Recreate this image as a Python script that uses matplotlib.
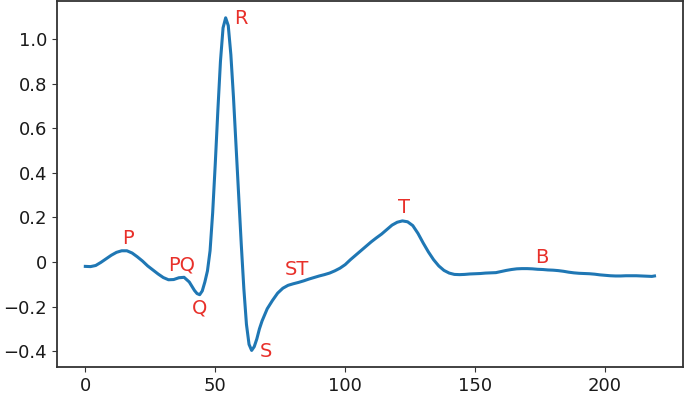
import matplotlib
matplotlib.use("Agg")
import matplotlib.pyplot as plt

# ECG beat, values
t = [0, 2, 4, 6, 8, 10, 12, 14, 16, 18, 20, 22, 24, 26, 28, 30, 32, 34, 36, 38,
     40, 42, 43, 44, 45, 46, 47, 48, 49, 50, 51, 52, 53, 54, 55, 56, 57, 58, 59,
     60, 61, 62, 63, 64, 65, 66, 67, 68, 70, 72, 74, 76, 78, 80, 82, 84, 86, 88,
     90, 92, 94, 96, 98, 100, 102, 104, 106, 108, 110, 112, 114, 116, 118, 120,
     122, 124, 126, 128, 130, 132, 134, 136, 138, 140, 142, 144, 146, 148, 150,
     152, 154, 156, 158, 160, 162, 164, 166, 168, 170, 172, 174, 176, 178, 180,
     182, 184, 186, 188, 190, 192, 194, 196, 198, 200, 202, 204, 206, 208, 210,
     212, 214, 216, 218, 219]
amp = [-0.020, -0.021, -0.016, -0.002, 0.014, 0.030, 0.043, 0.050, 0.050, 0.040,
       0.023, 0.004, -0.018, -0.036, -0.054, -0.070, -0.080, -0.079, -0.071, -0.069,
       -0.090, -0.128, -0.142, -0.147, -0.130, -0.090, -0.040, 0.050, 0.220, 0.440,
       0.680, 0.900, 1.050, 1.095, 1.060, 0.930, 0.740, 0.520, 0.300,
       0.080, -0.120, -0.280, -0.370, -0.397, -0.380, -0.345, -0.300, -0.265, -0.210,
       -0.173, -0.140, -0.118, -0.105, -0.098, -0.092, -0.085, -0.077, -0.070,
       -0.063, -0.057, -0.050, -0.040, -0.028, -0.012, 0.010, 0.030, 0.050, 0.070,
       0.090, 0.108, 0.125, 0.145, 0.165, 0.178,
       0.184, 0.180, 0.163, 0.128, 0.085, 0.045, 0.010, -0.018, -0.038, -0.050,
       -0.056, -0.057, -0.056, -0.054, -0.053,
       -0.052, -0.050, -0.049, -0.048, -0.043, -0.038, -0.034, -0.031, -0.030,
       -0.030, -0.031, -0.033, -0.034, -0.036, -0.037,
       -0.039, -0.042, -0.046, -0.049, -0.051, -0.052, -0.053, -0.055, -0.058,
       -0.060, -0.062, -0.063, -0.063, -0.062, -0.062,
       -0.062, -0.063, -0.064, -0.065, -0.063]

# wave labels and where they sit
names = ["P", "PQ", "Q", "R", "S", "ST", "T", "B"]
name_x = [16.5, 36.9, 43.8, 59.9, 69.5, 81.4, 122.5, 175.8]
name_y = [0.103, -0.013, -0.205, 1.09, -0.40, -0.036, 0.245, 0.018]

yticks = [-0.4, -0.2, 0, 0.2, 0.4, 0.6, 0.8, 1.0]
ylabels = ["\u22120.4", "\u22120.2", "0", "0.2", "0.4", "0.6", "0.8", "1.0"]
xticks = [0, 50, 100, 150, 200]

fig = plt.figure(figsize=(6.85, 3.93), dpi=100)
ax = fig.add_axes([0.083, 0.066, 0.914, 0.931])
ax.plot(t, amp, color="#1f77b4", lw=2.2)

for n, x, y in zip(names, name_x, name_y):
    ax.text(x, y, n, color="#e8302a", fontsize=14, ha="center", va="center")

ax.set_yticks(yticks)
ax.set_yticklabels(ylabels)
ax.set_xticks(xticks)
ax.tick_params(labelsize=13, color="#333333", labelcolor="#1a1a1a")
for s in ax.spines.values():
    s.set_color("#333333")
    s.set_linewidth(1.3)

fig.savefig("out.png", dpi=100)
